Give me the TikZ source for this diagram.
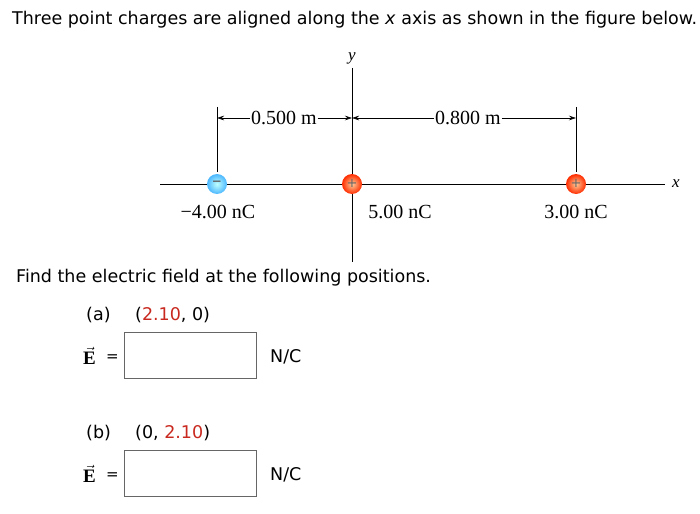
\documentclass[tikz,border=0pt]{standalone}
\usepackage{fontspec}
\setmainfont{DejaVu Sans}
\newfontfamily\fig{Liberation Serif}
\usetikzlibrary{arrows.meta}
\definecolor{qred}{HTML}{C8281E}
\tikzset{
  txt/.style={anchor=west,inner sep=0,font=\fontsize{17.5}{20}\selectfont},
  lab/.style={inner sep=1pt,font=\fig\fontsize{20}{22}\selectfont},
  ansbox/.style={draw=black!60,minimum width=132pt,minimum height=46pt,inner sep=0,line width=0.6pt},
  dim/.style={-{Stealth[length=7pt,width=4.5pt]},line width=0.6pt},
  negq/.style={inner color=cyan!25!white,outer color=cyan!60!blue!70},
  posq/.style={inner color=orange!40!white,outer color=red!65!orange},
}
\begin{document}
\begin{tikzpicture}[x=1pt,y=-1pt]
\useasboundingbox (0,0) rectangle (700,513);
\node[txt] (t) at (12,20) {Three point charges are aligned along the \textit{x} axis as shown in the figure below.};
% axes
\coordinate (xl) at (160,184); \coordinate (xr) at (665,184);
\coordinate (yt) at (352,68); \coordinate (yb) at (352,262);
\draw[line width=0.6pt] (xl) -- (xr);
\draw[line width=0.6pt] (yt) -- (yb);
\node[lab,font=\fig\itshape\fontsize{17}{19}\selectfont] (xlab) at (676,184) {x};
\node[lab,font=\fig\itshape\fontsize{17}{19}\selectfont] (ylab) at (352,58) {y};
% ticks
\draw[line width=0.6pt] (217,107) -- (217,172);
\draw[line width=0.6pt] (576,107) -- (576,172);
\coordinate (d1) at (217,118); \coordinate (d0) at (352,118); \coordinate (d2) at (576,118);
\node[lab,fill=white] (m1) at (284,118) {0.500 m};
\node[lab,fill=white] (m2) at (468,118) {0.800 m};
\draw[dim] (m1.west) -- (d1);
\draw[dim] (m1.east) -- (d0);
\draw[dim] (m2.west) -- (d0);
\draw[dim] (m2.east) -- (d2);
% charges
\shade[negq] (217,184) circle (10);
\node[font=\bfseries\fontsize{12}{12}\selectfont,text=black!60] (qn) at (217,183) {−};
\shade[posq] (352,184) circle (10);
\node[font=\fontsize{13}{13}\selectfont,text=black!60] (qp1) at (352,183) {+};
\shade[posq] (576,184) circle (10);
\node[font=\fontsize{13}{13}\selectfont,text=black!60] (qp2) at (576,183) {+};
\node[lab] (c1) at (218,212) {−4.00 nC};
\node[lab] (c2) at (400,212) {5.00 nC};
\node[lab] (c3) at (576,212) {3.00 nC};
% questions
\node[txt] (f) at (16,278) {Find the electric field at the following positions.};
\node[txt] (a) at (86,315) {(a)};
\node[txt] (av) at (135,315) {(\textcolor{qred}{2.10}, 0)};
\node[txt,font=\fig\bfseries\fontsize{19}{19}\selectfont] (ea) at (83,356) {$\vec{\textbf{E}}$};
\node[txt,font=\fontsize{15}{15}\selectfont] (eqa) at (106,358) {=};
\node[ansbox,anchor=north west] (ba) at (124,332) {};
\node[txt] (na) at (270,357) {N/C};
\node[txt] (b) at (86,433) {(b)};
\node[txt] (bv) at (135,433) {(0, \textcolor{qred}{2.10})};
\node[txt,font=\fig\bfseries\fontsize{19}{19}\selectfont] (eb) at (83,474) {$\vec{\textbf{E}}$};
\node[txt,font=\fontsize{15}{15}\selectfont] (eqb) at (106,476) {=};
\node[ansbox,anchor=north west] (bb) at (124,450) {};
\node[txt] (nb) at (270,475) {N/C};
\end{tikzpicture}
\end{document}
